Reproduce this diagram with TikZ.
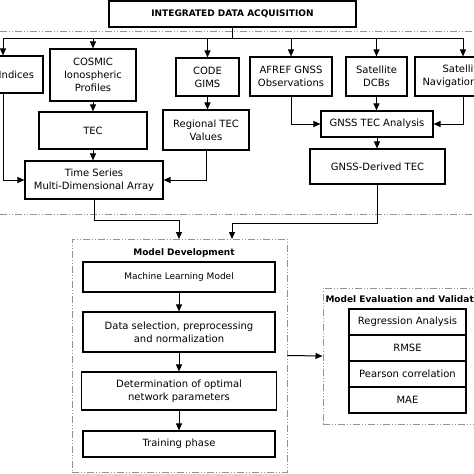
\documentclass[tikz,border=0pt]{standalone}
\usepackage{fontspec}
\setmainfont{DejaVu Sans}
\usetikzlibrary{arrows.meta}
\begin{document}
\begin{tikzpicture}[x=1pt,y=-1pt,
  box/.style={draw, line width=1.1pt, align=center, inner sep=0pt, font=\fontsize{10}{13}\selectfont},
  arr/.style={line width=1pt, -{Triangle[length=7pt,width=6pt]}},
  ln/.style={line width=1pt},
  grp/.style={draw=gray!85, line width=1pt, dash pattern=on 7pt off 2pt on 1pt off 2pt on 1pt off 2pt},
  ttl/.style={font=\bfseries\fontsize{9}{11}\selectfont, inner sep=0pt}]
\useasboundingbox (0,0) rectangle (474,474);

% group separators
\draw[grp] (0,31) -- (474,31);
\draw[grp] (0,214) -- (474,214);

% acquisition
\node[box, font=\bfseries\fontsize{9}{11}\selectfont, minimum width=247pt, minimum height=26pt] (top) at (232.5,14) {INTEGRATED DATA ACQUISITION};
\node[box, minimum width=80pt, minimum height=37pt, text width=62pt, align=right] (indices) at (3,74.5) {Indices};
\node[box, minimum width=86pt, minimum height=52pt] (cosmic) at (93,75) {COSMIC\\Ionospheric\\Profiles};
\node[box, minimum width=63pt, minimum height=38pt] (code) at (207.5,77) {CODE\\GIMS};
\node[box, minimum width=82pt, minimum height=39pt] (afref) at (291,76.5) {AFREF GNSS\\Observations};
\node[box, minimum width=61pt, minimum height=39pt] (dcbs) at (376.5,76.5) {Satellite\\DCBs};
\node[box, minimum width=96pt, minimum height=39pt] (satnav) at (463,76.5) {Satellite\\Navigation\hphantom{ Data}};
\node[box, minimum width=108pt, minimum height=37pt] (tec) at (93,130.5) {TEC};
\node[box, minimum width=86pt, minimum height=40pt] (regional) at (206,130) {Regional TEC\\Values};
\node[box, minimum width=138pt, minimum height=38pt] (ts) at (94,180) {Time Series\\Multi-Dimensional Array};
\node[box, minimum width=112pt, minimum height=26pt] (analysis) at (377,124) {GNSS TEC Analysis};
\node[box, minimum width=135pt, minimum height=35pt] (derived) at (377.5,166.5) {GNSS-Derived TEC};

% model development
\node[grp, minimum width=215pt, minimum height=233pt, inner sep=0pt] (mdbox) at (179.5,355.5) {};
\node[ttl] (mdtitle) at (184,253) {Model Development};
\node[box, minimum width=192pt, minimum height=30pt, font=\fontsize{9}{12}\selectfont] (mlm) at (179,277) {Machine Learning Model};
\node[box, minimum width=192pt, minimum height=40pt] (dsel) at (179,332) {Data selection, preprocessing\\and normalization};
\node[box, minimum width=195pt, minimum height=38pt] (det) at (179,391) {Determination of optimal\\network parameters};
\node[box, minimum width=192pt, minimum height=26pt] (train) at (179,444) {Training phase};

% evaluation
\node[grp, minimum width=169pt, minimum height=136pt, inner sep=0pt] (evbox) at (407.5,356) {};
\node[ttl] (evtitle) at (407.5,299) {Model Evaluation and Validation};
\node[box, minimum width=117pt, minimum height=26pt] (r1) at (407.5,322) {Regression Analysis};
\node[box, minimum width=117pt, minimum height=26pt] (r2) at (407.5,348) {RMSE};
\node[box, minimum width=117pt, minimum height=26pt] (r3) at (407.5,374) {Pearson correlation};
\node[box, minimum width=117pt, minimum height=26pt] (r4) at (407.5,400) {MAE};

% connectors
\coordinate (bus) at (232.5,38);
\draw[ln] (top.south) -- (bus);
\draw[ln] (bus -| indices.north) -- (bus -| satnav.north);
\foreach \n in {indices,cosmic,code,afref,dcbs,satnav}
  \draw[arr] (bus -| \n.north) -- (\n.north);
\draw[arr] (cosmic.south) -- (cosmic.south |- tec.north);
\draw[arr] (code.south) -- (code.south |- regional.north);
\draw[arr] (tec.south) -- (tec.south |- ts.north);
\draw[arr] (indices.south) |- (ts.west);
\draw[arr] (regional.south) |- (ts.east);
\draw[arr] (afref.south) |- (analysis.west);
\draw[arr] (satnav.south) |- (analysis.east);
\draw[arr] (dcbs.south) -- (dcbs.south |- analysis.north);
\draw[arr] (analysis.south) -- (analysis.south |- derived.north);
\coordinate (tsbend) at (94,220);
\coordinate (mdin1) at (179,239);
\coordinate (gnbend) at (377.5,223);
\coordinate (mdin2) at (232,239);
\draw[arr] (ts.south) -- (tsbend) -| (mdin1);
\draw[arr] (derived.south) -- (gnbend) -| (mdin2);
\draw[arr] (mlm.south) -- (dsel.north);
\draw[arr] (dsel.south) -- (det.north);
\draw[arr] (det.south) -- (train.north);
\draw[arr] (mdbox.east) -- (evbox.west);
\end{tikzpicture}
\end{document}
